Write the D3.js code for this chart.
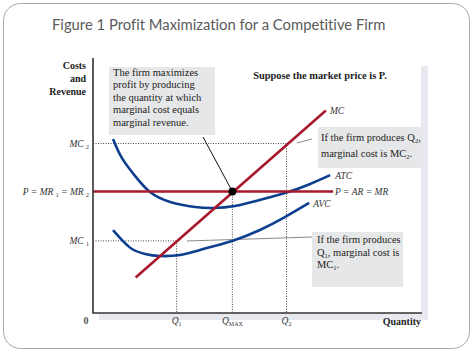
<!DOCTYPE html>
<html>
<head>
<meta charset="utf-8">
<script src="https://cdn.jsdelivr.net/npm/d3@7"></script>
<style>
  body { margin: 0; background: #fff; }
  svg text { font-family: "Liberation Serif", "DejaVu Serif", serif; }
</style>
</head>
<body>
<div id="chart"></div>
<script>
// quantity / cost values
var price = 4.8;
var mc1 = 2.85, mc2 = 6.7;
var q1 = 2.55, qMax = 4.25, q2 = 5.9;
var priceEnd = 7.32;
var mcLine = [[1.3, 1.4], [7.1, 8.0]];
var atc = [[0.61, 6.88], [0.88, 6.13], [1.28, 5.42], [1.74, 4.78], [2.35, 4.39],
  [3.11, 4.19], [3.66, 4.15], [4.33, 4.23], [5.09, 4.47], [5.95, 4.78],
  [6.62, 5.10], [7.23, 5.45]];
var avc = [[0.61, 3.28], [0.88, 2.89], [1.19, 2.53], [1.59, 2.33], [2.04, 2.25],
  [2.65, 2.29], [3.26, 2.49], [4.24, 2.85], [5.09, 3.28], [5.85, 3.79],
  [6.59, 4.35]];

var red = '#a8182c', blue = '#0e3f8f', axisCol = '#333';

var svg = d3.select('#chart').append('svg')
    .attr('width', 474).attr('height', 355);

// slide frame
svg.append('rect')
    .attr('x', 3.5).attr('y', 3.5).attr('width', 466).attr('height', 345)
    .attr('rx', 17).attr('ry', 17)
    .attr('fill', '#fff').attr('stroke', '#a8a8a8').attr('stroke-width', 1);

svg.append('text')
    .attr('x', 52).attr('y', 30)
    .style('font-family', 'Lato, "Open Sans", sans-serif')
    .style('font-variant-ligatures', 'none')
    .attr('font-size', 14.8).attr('fill', '#5a5a5a')
    .text('Figure 1 Profit Maximization for a Competitive Firm');

var x = d3.scaleLinear().domain([0, 10]).range([93, 421]);
var y = d3.scaleLinear().domain([0, 10]).range([313, 60]);

// plot area shadow
svg.append('rect')
    .attr('x', 99).attr('y', 66).attr('width', 329).attr('height', 254)
    .attr('fill', '#e8e9ee');
svg.append('rect')
    .attr('x', 93).attr('y', 60).attr('width', 328).attr('height', 253)
    .attr('fill', '#fff');

// annotation boxes
svg.append('rect').attr('x', 109).attr('y', 67).attr('width', 106).attr('height', 68)
    .attr('fill', '#e6e7e8');
svg.append('rect').attr('x', 318).attr('y', 127).attr('width', 104).attr('height', 41)
    .attr('fill', '#e6e7e8');
svg.append('rect').attr('x', 312).attr('y', 232).attr('width', 91).attr('height', 55)
    .attr('fill', '#e6e7e8');

// dotted guides
var dots = svg.append('g')
    .attr('stroke', '#444').attr('stroke-width', 1).attr('stroke-dasharray', '1,1.5');
dots.append('line').attr('x1', x(0)).attr('x2', x(q2)).attr('y1', y(mc2)).attr('y2', y(mc2));
dots.append('line').attr('x1', x(q2)).attr('x2', x(q2)).attr('y1', y(mc2)).attr('y2', y(0));
dots.append('line').attr('x1', x(0)).attr('x2', x(q1)).attr('y1', y(mc1)).attr('y2', y(mc1));
dots.append('line').attr('x1', x(q1)).attr('x2', x(q1)).attr('y1', y(mc1)).attr('y2', y(0));
dots.append('line').attr('x1', x(qMax)).attr('x2', x(qMax)).attr('y1', y(price)).attr('y2', y(0));

// pointer lines
svg.append('line').attr('x1', 187).attr('y1', 241).attr('x2', 312).attr('y2', 237)
    .attr('stroke', '#888').attr('stroke-width', 1);
svg.append('line').attr('x1', 297).attr('y1', 143).attr('x2', 312).attr('y2', 139)
    .attr('stroke', '#888').attr('stroke-width', 1);

var line = d3.line()
    .x(function (d) { return x(d[0]); })
    .y(function (d) { return y(d[1]); });
var curve = d3.line()
    .x(function (d) { return x(d[0]); })
    .y(function (d) { return y(d[1]); })
    .curve(d3.curveNatural);

svg.append('path').datum(atc).attr('d', curve)
    .attr('fill', 'none').attr('stroke', blue).attr('stroke-width', 2.6);
svg.append('path').datum(avc).attr('d', curve)
    .attr('fill', 'none').attr('stroke', blue).attr('stroke-width', 2.6);
svg.append('path').datum([[0, price], [priceEnd, price]]).attr('d', line)
    .attr('fill', 'none').attr('stroke', red).attr('stroke-width', 2.6);
svg.append('path').datum(mcLine).attr('d', line)
    .attr('fill', 'none').attr('stroke', red).attr('stroke-width', 2.6);

svg.append('line').attr('x1', 203).attr('y1', 137).attr('x2', x(qMax)).attr('y2', y(price))
    .attr('stroke', '#111').attr('stroke-width', 1);
svg.append('circle').attr('cx', x(qMax)).attr('cy', y(price)).attr('r', 4)
    .attr('fill', '#000');

// axes
svg.append('path')
    .attr('d', 'M' + x(0) + ',' + 58 + 'V' + y(0) + 'H' + 422)
    .attr('fill', 'none').attr('stroke', axisCol).attr('stroke-width', 1.6);

// axis titles
var axT = svg.append('g').attr('font-weight', 'bold').attr('font-size', 10).attr('fill', '#222');
axT.append('text').attr('x', 86).attr('y', 69).attr('text-anchor', 'end').text('Costs');
axT.append('text').attr('x', 86).attr('y', 82).attr('text-anchor', 'end').text('and');
axT.append('text').attr('x', 86).attr('y', 95).attr('text-anchor', 'end').text('Revenue');
axT.append('text').attr('x', 421).attr('y', 325).attr('text-anchor', 'end').text('Quantity');
axT.append('text').attr('x', 86).attr('y', 324).attr('text-anchor', 'middle')
    .attr('fill', '#555').text('0');
axT.append('text').attr('x', 320).attr('y', 79).attr('text-anchor', 'middle')
    .attr('font-size', 10.4).text('Suppose the market price is P.');

// italic labels with subscripts
function subLabel(g, parts, attrs) {
  var t = g.append('text').attr('font-style', 'italic').attr('font-size', 9.5).attr('fill', '#333');
  Object.keys(attrs).forEach(function (k) { t.attr(k, attrs[k]); });
  parts.forEach(function (p) {
    var s = t.append('tspan').text(p[0]);
    if (p[1]) s.attr('font-size', 6).attr('font-style', 'normal').attr('dy', 2);
    else if (p[2]) s.attr('dy', -2);
  });
  return t;
}
var lab = svg.append('g');
subLabel(lab, [['MC '], ['2', 1]], {x: 89, y: y(mc2) + 3.5, 'text-anchor': 'end'});
subLabel(lab, [['MC '], ['1', 1]], {x: 89, y: y(mc1) + 3.5, 'text-anchor': 'end'});
subLabel(lab, [['P = MR '], ['1', 1], [' = MR ', 0, 1], ['2', 1]], {x: 89, y: y(price) + 3.5, 'text-anchor': 'end'});
subLabel(lab, [['P  = AR  = MR']], {x: x(priceEnd) + 2, y: y(price) + 3.5});
subLabel(lab, [['MC']], {x: x(mcLine[1][0]) + 4, y: y(mcLine[1][1]) + 3});
subLabel(lab, [['ATC']], {x: x(atc[atc.length - 1][0]) + 5, y: y(atc[atc.length - 1][1]) + 4});
subLabel(lab, [['AVC']], {x: x(avc[avc.length - 1][0]) + 4, y: y(avc[avc.length - 1][1]) + 4});
subLabel(lab, [['Q'], ['1', 1]], {x: x(q1), y: 324, 'text-anchor': 'middle'});
subLabel(lab, [['Q'], ['2', 1]], {x: x(q2), y: 324, 'text-anchor': 'middle'});
subLabel(lab, [['Q'], ['MAX', 1]], {x: x(qMax), y: 324, 'text-anchor': 'middle'});

// box texts
function para(lines, x0, y0, dy) {
  var t = svg.append('text').attr('font-size', 10.5).attr('fill', '#222');
  lines.forEach(function (l, i) {
    var row = t.append('tspan').attr('x', x0).attr('y', y0 + i * dy);
    l.forEach(function (p) {
      var s = row.append('tspan').text(p[0]);
      if (p[1]) s.attr('font-size', 6.5).attr('dy', 2);
      else if (p[2]) s.attr('dy', -2);
    });
  });
}
para([[['The firm maximizes']], [['profit by producing']], [['the quantity at which']],
  [['marginal cost equals']], [['marginal revenue.']]], 113, 76, 12.4);
para([[['If the firm produces Q'], ['2', 1], [',', 0, 1]], [['marginal cost is MC'], ['2', 1], ['.', 0, 1]]],
  321, 141, 15.5);
para([[['If the firm produces']], [['Q'], ['1', 1], [', marginal cost is', 0, 1]], [['MC'], ['1', 1], ['.', 0, 1]]],
  317, 243, 12.5);
</script>
</body>
</html>
